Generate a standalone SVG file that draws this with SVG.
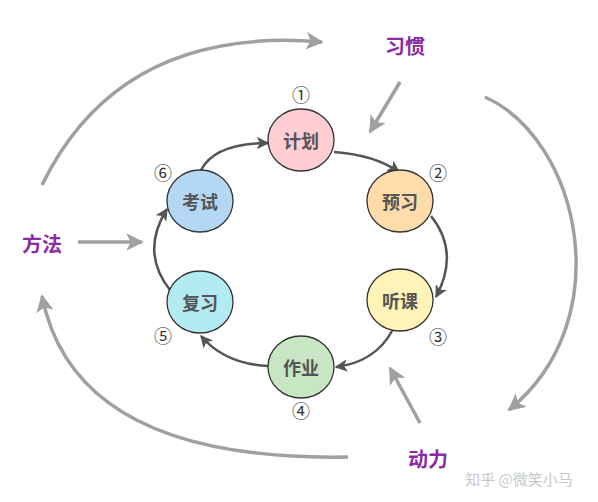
<svg xmlns="http://www.w3.org/2000/svg" width="598" height="502" viewBox="0 0 598 502">
<style>
.node ellipse{stroke:#333;stroke-width:1.3}
.nt{font-family:"Noto Sans CJK SC","Noto Sans",sans-serif;font-weight:bold;font-size:18px;fill:#555;text-anchor:middle;dominant-baseline:central}
.num{font-family:"Noto Sans CJK SC","DejaVu Sans",sans-serif;font-size:18px;fill:#333;text-anchor:middle;dominant-baseline:central}
.big{font-family:"Noto Sans CJK SC",sans-serif;font-weight:bold;font-size:20px;fill:#8a2ca3;text-anchor:middle;dominant-baseline:central}
.in{fill:none;stroke:#555;stroke-width:2.5}
.out{fill:none;stroke:#a0a0a0;stroke-width:3.5}
.wm{font-family:"Noto Sans CJK SC",sans-serif;font-size:15px;fill:#c8c8c8;text-anchor:middle;dominant-baseline:central}
</style>
<defs>
<marker id="ai" viewBox="0 0 10 10" refX="9" refY="5" markerWidth="5" markerHeight="5" markerUnits="strokeWidth" orient="auto"><path d="M0,0 L10,5 L0,10 L2.5,5 Z" fill="#555"/></marker>
<marker id="ao" viewBox="0 0 10 10" refX="9" refY="5" markerWidth="5" markerHeight="5" markerUnits="strokeWidth" orient="auto"><path d="M0,0 L10,5 L0,10 L2.5,5 Z" fill="#a0a0a0"/></marker>
</defs>
<rect width="598" height="502" fill="#fff"/>
<g id="connectors">
<path class="in" d="M334,152 Q375,155 399,172" marker-end="url(#ai)"/>
<path class="in" d="M431,216 Q460,252 436,297" marker-end="url(#ai)"/>
<path class="in" d="M392,331 Q375,362 336,367" marker-end="url(#ai)"/>
<path class="in" d="M268,366 Q225,364 201,336" marker-end="url(#ai)"/>
<path class="in" d="M170,290 Q140,252 167,209" marker-end="url(#ai)"/>
<path class="in" d="M201,170 Q215,143 268,143" marker-end="url(#ai)"/>
<path class="out" d="M42,185 Q120,25 322,42" marker-end="url(#ao)"/>
<path class="out" d="M485,97 C580,140 620,320 509,410" marker-end="url(#ao)"/>
<path class="out" d="M348,457 Q75,462 42,296" marker-end="url(#ao)"/>
<path class="out" d="M78,242 L142,242" marker-end="url(#ao)"/>
<path class="out" d="M400,82 L370,132" marker-end="url(#ao)"/>
<path class="out" d="M420,423 L390,368" marker-end="url(#ao)"/>
</g>
<g id="n1" class="node"><ellipse cx="301" cy="140" rx="33" ry="31" fill="#ffcdd2"/><text class="nt" x="301" y="140">计划</text><text class="num" x="301" y="94">①</text></g>
<g id="n2" class="node"><ellipse cx="400" cy="201" rx="33" ry="31" fill="#ffdcaa"/><text class="nt" x="400" y="201">预习</text><text class="num" x="438" y="172">②</text></g>
<g id="n3" class="node"><ellipse cx="400" cy="300" rx="33" ry="31" fill="#fff3b8"/><text class="nt" x="400" y="300">听课</text><text class="num" x="438" y="336">③</text></g>
<g id="n4" class="node"><ellipse cx="301" cy="367" rx="33" ry="31" fill="#c8e6c4"/><text class="nt" x="301" y="367">作业</text><text class="num" x="301" y="410">④</text></g>
<g id="n5" class="node"><ellipse cx="200" cy="302" rx="33" ry="31" fill="#b2ebf2"/><text class="nt" x="200" y="302">复习</text><text class="num" x="163" y="335">⑤</text></g>
<g id="n6" class="node"><ellipse cx="200" cy="201" rx="33" ry="31" fill="#b3d7f5"/><text class="nt" x="200" y="201">考试</text><text class="num" x="163" y="172">⑥</text></g>
<g id="l-habit"><text class="big" x="405" y="45">习惯</text></g>
<g id="l-method"><text class="big" x="42" y="243">方法</text></g>
<g id="l-power"><text class="big" x="428" y="458">动力</text></g>
<text class="wm" x="519" y="478">知乎 @微笑小马</text>
</svg>
